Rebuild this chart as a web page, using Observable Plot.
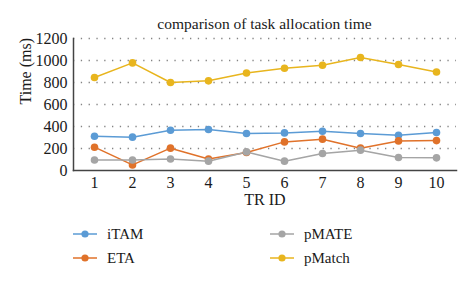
<!DOCTYPE html>
<html>
<head>
<meta charset="utf-8">
<script src="https://cdn.jsdelivr.net/npm/d3@7"></script>
<script src="https://cdn.jsdelivr.net/npm/@observablehq/plot@0.6"></script>
<style>
  html, body { margin: 0; padding: 0; background: #fff; }
  #chart { position: relative; width: 474px; height: 282px; font-family: "Liberation Serif", "DejaVu Serif", serif; color: #1a1a1a; }
  #title { position: absolute; left: 73px; width: 383px; top: 14px; text-align: center; font-size: 15.5px; line-height: 20px; }
  #plot { position: absolute; left: 0; top: 0; }
  #plot svg text { font-family: "Liberation Serif", "DejaVu Serif", serif; }
  .leg { position: absolute; display: flex; align-items: center; font-size: 15px; line-height: 18px; }
  .leg svg { margin-right: 10px; }
</style>
</head>
<body>
<div id="chart">
  <div id="plot"></div>
  <div id="title">comparison of task allocation time</div>
</div>
<script>
// Task request IDs on the x axis
const trIds = [1, 2, 3, 4, 5, 6, 7, 8, 9, 10];
const yTicks = [0, 200, 400, 600, 800, 1000, 1200];

// Allocation time (ms) per method
const seriesNames = ["iTAM", "ETA", "pMATE", "pMatch"];
const iTAM   = [312, 303, 366, 373, 336, 342, 357, 336, 321, 345];
const ETA    = [212, 51, 203, 105, 164, 260, 285, 203, 269, 272];
const pMATE  = [96, 96, 105, 85, 169, 85, 155, 185, 118, 115];
const pMatch = [845, 978, 800, 815, 887, 930, 957, 1027, 964, 896];
const seriesColors = ["#5B9BD5", "#E0722A", "#A5A5A5", "#E8B51E"];

const values = [iTAM, ETA, pMATE, pMatch];
const rows = seriesNames.flatMap((name, s) =>
  trIds.map((id, i) => ({ id, series: name, time: values[s][i] }))
);

const font = '"Liberation Serif", "DejaVu Serif", serif';

const chart = Plot.plot({
  width: 474,
  height: 215,
  marginTop: 38,
  marginBottom: 45,
  marginLeft: 73,
  marginRight: 18,
  style: { fontFamily: font, fontSize: "16px", color: "#1a1a1a", background: "transparent", overflow: "visible" },
  x: { type: "point", domain: trIds, padding: 0.5, label: null },
  y: { domain: [0, 1200], ticks: yTicks, label: null },
  color: { domain: seriesNames, range: seriesColors },
  marks: [
    // dotted horizontal gridlines
    Plot.ruleY(yTicks.filter(d => d > 0), { stroke: "#777", strokeWidth: 1.3, strokeDasharray: "1.3,6.5", strokeOpacity: 0.9 }),
    Plot.axisY({ ticks: yTicks, tickFormat: d3.format("d"), tickSize: 0, tickPadding: 6, label: null, fontSize: 16, fontFamily: font }),
    Plot.axisX({ tickSize: 0, tickPadding: 6, label: null, fontSize: 16, fontFamily: font }),
    Plot.text(["Time (ms)"], { frameAnchor: "left", dx: -48, rotate: -90, fontSize: 16, fontFamily: font }),
    Plot.text(["TR ID"], { frameAnchor: "bottom", dy: 34, fontSize: 16, fontFamily: font }),
    Plot.lineY(rows, { x: "id", y: "time", z: "series", stroke: "series", strokeWidth: 1.5 }),
    Plot.dot(rows, { x: "id", y: "time", fill: "series", r: 3.8, stroke: "none" }),
    Plot.frame({ anchor: "left", stroke: "#444", strokeWidth: 1.5 }),
    Plot.frame({ anchor: "bottom", stroke: "#444", strokeWidth: 1.5 })
  ]
});
document.getElementById("plot").appendChild(chart);

// legend: two columns, two rows
const legendPos = [
  { left: 73, top: 225 },
  { left: 73, top: 249 },
  { left: 270, top: 225 },
  { left: 270, top: 249 }
];
const container = d3.select("#chart");
seriesNames.forEach((name, i) => {
  const item = container.append("div").attr("class", "leg")
    .style("left", legendPos[i].left + "px").style("top", legendPos[i].top + "px");
  const svg = item.append("svg").attr("width", 24).attr("height", 18);
  svg.append("line").attr("x1", 0).attr("x2", 24).attr("y1", 9).attr("y2", 9)
    .attr("stroke", seriesColors[i]).attr("stroke-width", 1.5);
  svg.append("circle").attr("cx", 12).attr("cy", 9).attr("r", 3.6).attr("fill", seriesColors[i]);
  item.append("span").text(name);
});
</script>
</body>
</html>
